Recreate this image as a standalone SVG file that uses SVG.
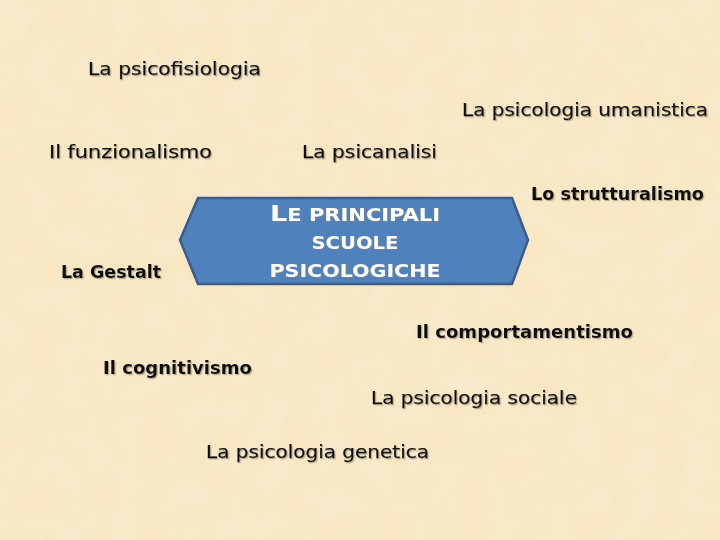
<svg xmlns="http://www.w3.org/2000/svg" width="720" height="540" viewBox="0 0 720 540">
  <defs>
    <filter id="paper" x="0" y="0" width="100%" height="100%">
      <feTurbulence type="fractalNoise" baseFrequency="0.035" numOctaves="3" seed="4" result="n"/>
      <feColorMatrix in="n" type="matrix" values="0 0 0 0 0.93  0 0 0 0 0.84  0 0 0 0 0.66  0 0 0 -1.6 1.05" result="c"/>
      <feComposite in="c" in2="SourceGraphic" operator="in"/>
    </filter>
    <filter id="sh" x="-5%" y="-20%" width="110%" height="150%">
      <feDropShadow dx="1.2" dy="1.2" stdDeviation="0.4" flood-color="#8a8070" flood-opacity="0.6"/>
    </filter>
    <style>
      .t { font-family: "DejaVu Sans", Verdana, sans-serif; font-size: 18.5px; fill: #111; stroke: #111; stroke-width: 0.25; filter: url(#sh); }
      .b { font-weight: bold; font-size: 18px; stroke-width: 0; }
      .w { font-family: "DejaVu Sans", Verdana, sans-serif; font-weight: bold; fill: #fff; text-anchor: middle; filter: url(#sh); }
      .hex { fill: #4F81BD; stroke: #385D8A; stroke-width: 2.5; }
    </style>
  </defs>
  <rect width="720" height="540" fill="#F8E7C2"/>
  <rect width="720" height="540" fill="#F8E7C2" filter="url(#paper)" opacity="0.8"/>

  <g id="connectors"></g>

  <g id="center">
    <polygon class="hex" points="180,240 198,198 512,198 528,240 512,284 198,284"/>
    <text class="w" x="355" y="221" textLength="170" lengthAdjust="spacingAndGlyphs"><tspan font-size="22">L</tspan><tspan font-size="17">E PRINCIPALI</tspan></text>
    <text class="w" x="355" y="249" font-size="17" textLength="87" lengthAdjust="spacingAndGlyphs">SCUOLE</text>
    <text class="w" x="355" y="277" font-size="17" textLength="171" lengthAdjust="spacingAndGlyphs">PSICOLOGICHE</text>
  </g>

  <g id="psicofisiologia"><text class="t" x="88" y="75" textLength="173" lengthAdjust="spacingAndGlyphs">La psicofisiologia</text></g>
  <g id="umanistica"><text class="t" x="462" y="116" textLength="246" lengthAdjust="spacingAndGlyphs">La psicologia umanistica</text></g>
  <g id="funzionalismo"><text class="t" x="49" y="158" textLength="163" lengthAdjust="spacingAndGlyphs">Il funzionalismo</text></g>
  <g id="psicanalisi"><text class="t" x="302" y="158" textLength="135" lengthAdjust="spacingAndGlyphs">La psicanalisi</text></g>
  <g id="strutturalismo"><text class="t b" x="531" y="200" textLength="173" lengthAdjust="spacingAndGlyphs">Lo strutturalismo</text></g>
  <g id="gestalt"><text class="t b" x="61" y="278" textLength="100" lengthAdjust="spacingAndGlyphs">La Gestalt</text></g>
  <g id="comportamentismo"><text class="t b" x="416" y="338" textLength="217" lengthAdjust="spacingAndGlyphs">Il comportamentismo</text></g>
  <g id="cognitivismo"><text class="t b" x="103" y="374" textLength="149" lengthAdjust="spacingAndGlyphs">Il cognitivismo</text></g>
  <g id="sociale"><text class="t" x="371" y="404" textLength="206" lengthAdjust="spacingAndGlyphs">La psicologia sociale</text></g>
  <g id="genetica"><text class="t" x="206" y="458" textLength="223" lengthAdjust="spacingAndGlyphs">La psicologia genetica</text></g>
</svg>
